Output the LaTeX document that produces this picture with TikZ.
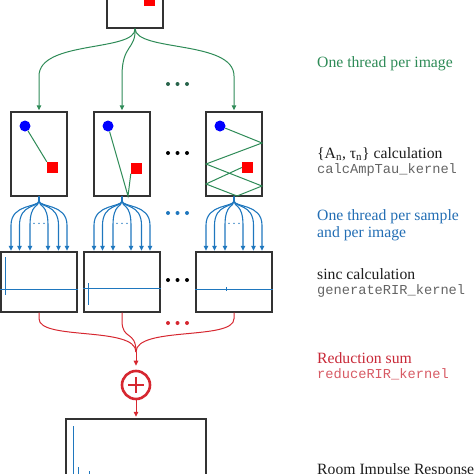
\documentclass[tikz,border=0pt]{standalone}
\usepackage{fontspec}
\setmainfont{Liberation Serif}
\setmonofont{Liberation Mono}
\usetikzlibrary{arrows.meta,calc}
\definecolor{cgreen}{RGB}{46,139,87}
\definecolor{cblue}{RGB}{31,119,190}
\definecolor{cred}{RGB}{214,39,48}
\definecolor{cframe}{RGB}{51,51,51}
\definecolor{tgreen}{RGB}{46,139,87}
\definecolor{tblue}{RGB}{35,110,180}
\definecolor{tred}{RGB}{200,40,55}
\definecolor{tgray}{RGB}{100,100,100}
\definecolor{tredmono}{RGB}{215,90,100}
\definecolor{tblack}{RGB}{30,30,30}
\definecolor{dgreen}{RGB}{40,100,75}
\begin{document}
\begin{tikzpicture}[x=1pt,y=-1pt,
  frame/.style={draw=cframe, line width=1.4pt, minimum width=56pt, minimum height=84pt, inner sep=0pt, fill=white},
  sincbox/.style={frame, minimum width=76pt, minimum height=60pt},
  finalbox/.style={frame, minimum width=140pt, minimum height=81pt},
  src/.style={circle, fill=blue, minimum size=11pt, inner sep=0pt},
  rcv/.style={fill=red, minimum size=11pt, inner sep=0pt},
  tip/.style={-{Triangle[length=5pt,width=4.5pt]}},
  garrow/.style={draw=cgreen, line width=1pt, tip},
  gpath/.style={draw=cgreen, line width=1pt},
  barrow/.style={draw=cblue, line width=1.1pt, tip},
  rpath/.style={draw=cred, line width=1pt},
  rarrow/.style={draw=cred, line width=1pt, tip},
  plot/.style={draw=cblue, line width=0.8pt},
  lbl/.style={anchor=base west, inner sep=0pt, font=\fontsize{15.7}{18}\selectfont, text=tblack},
  code/.style={anchor=base west, inner sep=0pt, font=\fontsize{13.7}{16}\selectfont\ttfamily, text=tgray},
  bigdot/.style={circle, inner sep=0pt, minimum size=4pt},
  smalldot/.style={circle, inner sep=0pt, minimum size=1.6pt, fill=cblue}
]
\useasboundingbox (0,0) rectangle (474,474);
\clip (0,0) rectangle (474,474);

% top box
\node[frame] (top) at (135,-14) {};
\node[rcv] (r0) at (149.5,0.5) {};

% middle boxes
\node[frame] (m1) at (39,154) {};
\node[frame] (m2) at (122,154) {};
\node[frame] (m3) at (234,154) {};

% green connectors
\draw[garrow, shorten >=1pt] (top.south) .. controls (136,52) and (39,40) .. (39,76) -- (m1.north);
\draw[garrow, shorten >=1pt] (top.south) .. controls (136,50) and (122,44) .. (122,76) -- (m2.north);
\draw[garrow, shorten >=1pt] (top.south) .. controls (136,52) and (234,40) .. (234,76) -- (m3.north);

% image paths
\coordinate (b2) at (128,196);
\coordinate (w1) at (262,143);
\coordinate (w2) at (206,164);
\coordinate (w3) at (262,186);
\coordinate (w4) at (237,196);
\coordinate (w5) at (206,184);
\node[src] (c1) at (25,126) {};
\node[src] (c2) at (108,126) {};
\node[src] (c3) at (220,126) {};
\node[rcv] (r1) at (52.5,167.5) {};
\node[rcv] (r2) at (136.5,168) {};
\node[rcv] (r3) at (247.5,167.5) {};
\draw[gpath] (c1) -- (r1.north west);
\draw[gpath] (c2) -- (b2) -- (r2.south west);
\draw[gpath] (c3) -- (w1) -- (w2) -- (w3) -- (w4) -- (w5) -- (r3.west);

% sinc boxes
\node[sincbox] (s1) at (39,282) {};
\node[sincbox] (s2) at (122,282) {};
\node[sincbox] (s3) at (234,282) {};

% blue fans
\foreach \m/\s in {m1/s1, m2/s2, m3/s3}{
  \foreach \dx in {-28,-19.5,-9,9,19.5,28}{
    \draw[barrow] (\m.south) -- ++(0,4) .. controls +(0,7) and ($(\s.north)+(\dx,-48)$) .. ($(\s.north)+(\dx,-26)$) -- ($(\s.north)+(\dx,-0.5)$);
  }
  \foreach \dd in {-5,0,5}{
    \node[smalldot] at ($(\s.north)+(\dd,-28)$) {};
  }
}

% sinc plots
\draw[plot] (s1.west |- 0,289) -- (s1.east |- 0,289);
\draw[plot] (5,257) -- (5,295);
\draw[plot] (s2.west |- 0,288) -- (s2.east |- 0,288);
\draw[plot] (88,283) -- (88,305);
\draw[plot] (s3.west |- 0,289) -- (s3.east |- 0,289);
\draw[plot] (226,287) -- (226,291);

% big dots
\foreach \yy/\cc in {84/dgreen,153/black,213/cblue,280/black,323/cred}{
  \foreach \xx in {168,177.5,187}{
    \node[bigdot, fill=\cc] at (\xx,\yy) {};
  }
}

% red reduction
\coordinate (merge) at (136,352);
\draw[rpath] (s1.south) -- ++(0,6) .. controls +(0,22) and (136,326) .. (merge);
\draw[rpath] (s2.south) -- ++(0,8) .. controls +(0,20) and (136,330) .. (merge);
\draw[rpath] (s3.south) -- ++(0,6) .. controls +(0,22) and (136,326) .. (merge);
\node[circle, draw=cred, line width=2.6pt, minimum size=28pt, inner sep=0pt, fill=white] (plus) at (136,385) {};
\draw[cred, line width=2.6pt] ($(plus.center)+(-8,0)$) -- ($(plus.center)+(8,0)$);
\draw[cred, line width=2.6pt] ($(plus.center)+(0,-8)$) -- ($(plus.center)+(0,8)$);
\draw[rarrow, shorten >=4pt] (merge) -- (plus.north);

% final box
\node[finalbox] (final) at (136,459.5) {};
\draw[rarrow, shorten >=1.5pt] (plus.south) -- (final.north);
\draw[plot] (73,426) -- (73,480);
\draw[plot] (78,467) -- (78,480);
\draw[plot] (89,471) -- (89,480);

% labels
\node[lbl, text=tgreen] (t1) at (317,67) {One thread per image};
\node[lbl] (t2) at (317,158) {\{A\textsubscript{n}, τ\textsubscript{n}\} calculation};
\node[code] (t3) at (317,173) {calcAmpTau\_kernel};
\node[lbl, text=tblue] (t4) at (317,220) {One thread per sample};
\node[lbl, text=tblue] (t5) at (317,237) {and per image};
\node[lbl] (t6) at (317,279) {sinc calculation};
\node[code] (t7) at (317,294) {generateRIR\_kernel};
\node[lbl, text=tred] (t8) at (317,363) {Reduction sum};
\node[code, text=tredmono] (t9) at (317,378) {reduceRIR\_kernel};
\node[lbl] (t10) at (317,474.5) {Room Impulse Response};
\end{tikzpicture}
\end{document}
